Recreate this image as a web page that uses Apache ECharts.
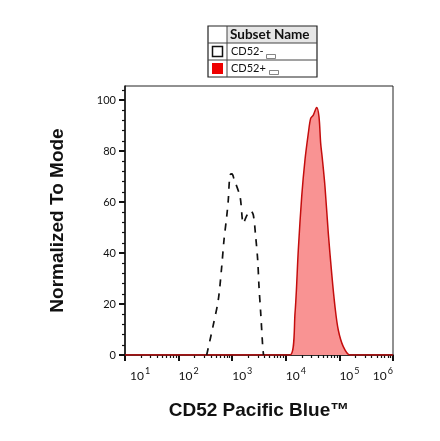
<!DOCTYPE html>
<html style="height: 100%">
<head>
    <meta charset="utf-8">
    <title>CD52 Pacific Blue</title>
    <script src="https://cdn.jsdelivr.net/npm/echarts@6/dist/echarts.min.js"></script>
</head>
<body style="height: 100%; margin: 0; background: #fff">
    <div id="main" style="width: 440px; height: 441px"></div>
    <script type="text/javascript">
        // CD52- (dashed, unfilled)
        var negX = [334, 444, 550, 637, 703, 789, 845, 909, 991, 1081, 1400, 1612, 1808, 1996, 2194, 2477, 2742, 2990, 3162, 3404, 3709, 3840];
        var negY = [0, 11.8, 21.6, 34.6, 45.1, 54.2, 60.8, 70.6, 71, 69, 62.1, 51.6, 54, 55.7, 56.6, 54.9, 46.4, 37.3, 26.8, 16.5, 3.3, 0];
        // CD52+ (red, filled)
        var posX = [10, 11970, 14860, 17110, 19800, 22800, 26300, 29100, 32600, 37650, 41600, 44750, 47970, 53830, 62100, 71800, 82800, 95300, 118200, 157800, 1000000];
        var posY = [0, 0, 16.4, 41.2, 62.1, 76.5, 86.9, 92.8, 94.1, 97.1, 93.5, 83, 77.1, 66, 47.7, 32, 18.9, 9.8, 3.3, 0, 0];

        var yMajor = [0, 20, 40, 60, 80, 100];
        var yMinor = [4, 8, 12, 16, 24, 28, 32, 36, 44, 48, 52, 56, 64, 68, 72, 76, 84, 88, 92, 96, 104];
        var xMajor = [10, 100, 1000, 10000, 100000, 1000000];
        var xMinor = [];
        for (var d = 10; d < 1000000; d *= 10) {
            for (var m = 2; m <= 9; m++) xMinor.push(m * d);
        }

        function pairs(xs, ys) {
            var out = [];
            for (var i = 0; i < xs.length; i++) out.push([xs[i], ys[i]]);
            return out;
        }

        var font = 'Lato';
        var titleFont = 'Liberation Sans';
        var myChart = echarts.init(document.getElementById('main'));

        var option = {
            backgroundColor: '#fff',
            animation: false,
            textStyle: { fontFamily: font },
            grid: {
                left: 125, right: 47, top: 86, bottom: 86,
                show: true, borderColor: '#222', borderWidth: 1
            },
            xAxis: [
                {
                    type: 'log', logBase: 10, min: 10, max: 1000000,
                    name: 'CD52 Pacific Blue™', nameLocation: 'middle', nameGap: 46,
                    nameTextStyle: { fontSize: 19, fontWeight: 'bold', color: '#111', fontFamily: titleFont },
                    axisLine: { show: true, lineStyle: { color: '#111', width: 1.5 } },
                    axisTick: { show: true, customValues: xMajor, length: 6, lineStyle: { color: '#111', width: 2 } },
                    splitLine: { show: false },
                    axisLabel: {
                        customValues: xMajor,
                        align: 'left',
                        alignMaxLabel: 'right',
                        margin: 12,
                        color: '#111',
                        formatter: function (v) {
                            var e = Math.round(Math.log10(v));
                            var b = e === 1 ? 'b1' : 'b';
                            return '{' + b + '|10}{s|' + e + '}';
                        },
                        rich: {
                            b: { fontSize: 12, lineHeight: 15, verticalAlign: 'bottom', fontFamily: font, color: '#111' },
                            b1: { fontSize: 12, lineHeight: 15, verticalAlign: 'bottom', fontFamily: font, color: '#111', padding: [0, 0, 0, 5] },
                            s: { fontSize: 9, lineHeight: 9, verticalAlign: 'top', fontFamily: font, color: '#111', padding: [0, 0, 0, 1] }
                        }
                    }
                },
                {
                    type: 'log', logBase: 10, min: 10, max: 1000000,
                    position: 'bottom',
                    axisLine: { show: false },
                    axisTick: { show: true, customValues: xMinor, length: 3, lineStyle: { color: '#111', width: 1.2 } },
                    axisLabel: { show: false },
                    splitLine: { show: false }
                }
            ],
            yAxis: [
                {
                    type: 'value', min: 0, max: 105.5, position: 'left',
                    name: 'Normalized To Mode', nameLocation: 'middle', nameGap: 58,
                    nameTextStyle: { fontSize: 19, fontWeight: 'bold', color: '#111', fontFamily: titleFont },
                    axisLine: { show: true, lineStyle: { color: '#111', width: 1.5 } },
                    axisTick: { show: true, customValues: yMajor, length: 6, lineStyle: { color: '#111', width: 2 } },
                    axisLabel: { customValues: yMajor, fontSize: 11, color: '#111', margin: 9 },
                    splitLine: { show: false }
                },
                {
                    type: 'value', min: 0, max: 105.5, position: 'left',
                    axisLine: { show: false },
                    axisTick: { show: true, customValues: yMinor, length: 3, lineStyle: { color: '#111', width: 1.2 } },
                    axisLabel: { show: false },
                    splitLine: { show: false }
                }
            ],
            series: [
                {
                    name: 'CD52-',
                    type: 'line',
                    xAxisIndex: 0, yAxisIndex: 0,
                    data: pairs(negX, negY),
                    smooth: 0.3,
                    showSymbol: false,
                    lineStyle: { color: '#111', width: 1.7, type: [7, 7] },
                    z: 3
                },
                {
                    name: 'CD52+',
                    type: 'line',
                    xAxisIndex: 0, yAxisIndex: 0,
                    data: pairs(posX, posY),
                    smooth: 0.3,
                    showSymbol: false,
                    lineStyle: { color: '#c40d0d', width: 1.5 },
                    areaStyle: { color: '#f99393', opacity: 1 },
                    z: 2
                }
            ],
            graphic: [
                // subset table
                { type: 'rect', shape: { x: 227, y: 26, width: 90, height: 17 }, style: { fill: '#e6e6e6' } },
                { type: 'rect', shape: { x: 208, y: 26, width: 109, height: 51 }, style: { fill: 'none', stroke: '#222', lineWidth: 1.2 } },
                { type: 'line', shape: { x1: 227, y1: 26, x2: 227, y2: 77 }, style: { stroke: '#444', lineWidth: 1 } },
                { type: 'line', shape: { x1: 208, y1: 43, x2: 317, y2: 43 }, style: { stroke: '#444', lineWidth: 1 } },
                { type: 'line', shape: { x1: 208, y1: 60, x2: 317, y2: 60 }, style: { stroke: '#444', lineWidth: 1 } },
                { type: 'text', x: 230, y: 34.5, style: { text: 'Subset Name', font: 'bold 13.5px Lato', fill: '#111', textVerticalAlign: 'middle' } },
                { type: 'rect', shape: { x: 212.5, y: 46.5, width: 10, height: 10 }, style: { fill: '#fff', stroke: '#111', lineWidth: 1.5 } },
                { type: 'text', x: 231, y: 51.5, style: { text: 'CD52-', font: '11px Lato', fill: '#111', textVerticalAlign: 'middle' } },
                { type: 'rect', shape: { x: 266.5, y: 54.5, width: 9, height: 4 }, style: { fill: 'none', stroke: '#666', lineWidth: 0.8 } },
                { type: 'rect', shape: { x: 212, y: 63, width: 11, height: 11 }, style: { fill: '#ee0000' } },
                { type: 'text', x: 231, y: 68.5, style: { text: 'CD52+', font: '11px Lato', fill: '#111', textVerticalAlign: 'middle' } },
                { type: 'rect', shape: { x: 269.5, y: 70.5, width: 9, height: 4 }, style: { fill: 'none', stroke: '#666', lineWidth: 0.8 } }
            ]
        };

        myChart.setOption(option);
    </script>
</body>
</html>
